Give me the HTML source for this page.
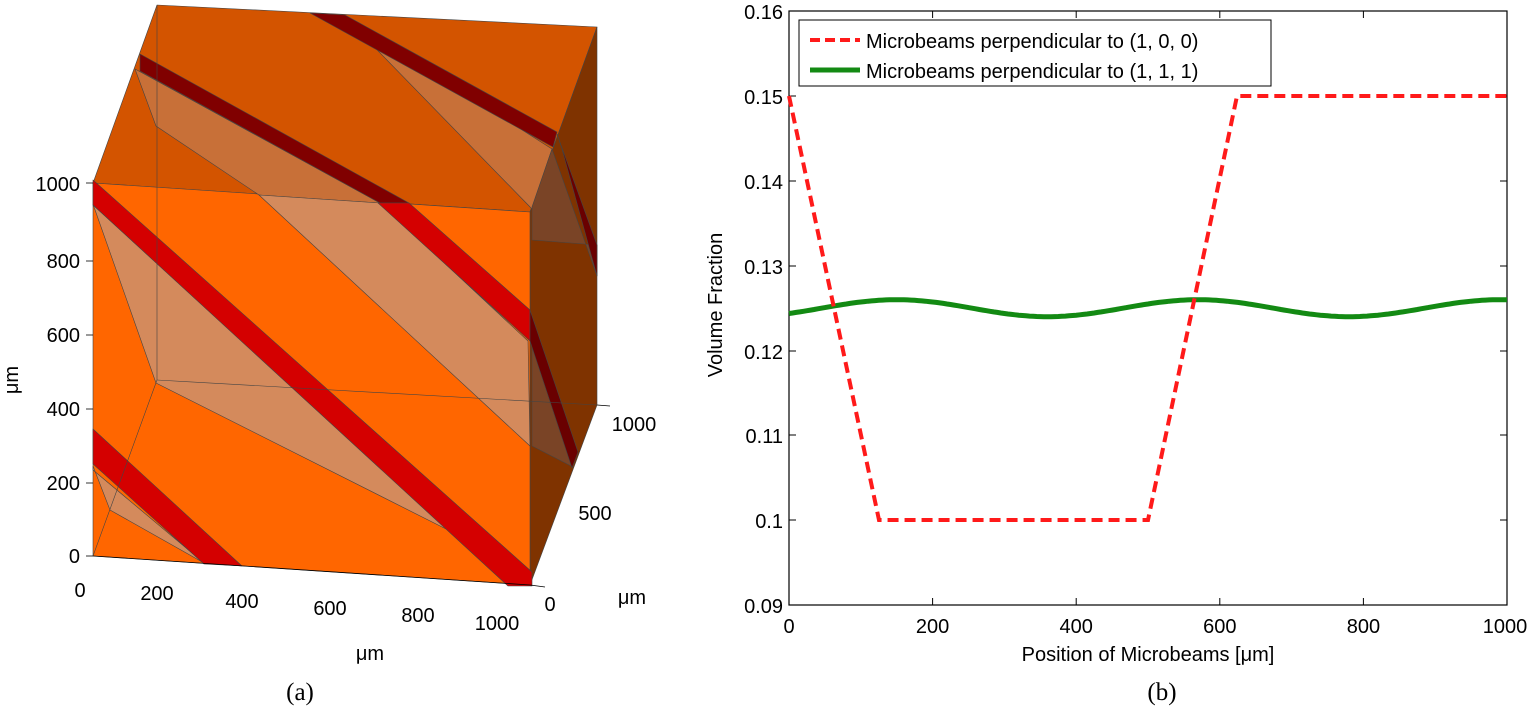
<!DOCTYPE html>
<html><head><meta charset="utf-8"><style>
html,body{margin:0;padding:0;background:#fff}
svg{display:block}
text{font-family:"Liberation Sans",sans-serif;fill:#000}
</style></head><body>
<svg width="1534" height="714" viewBox="0 0 1534 714" xmlns="http://www.w3.org/2000/svg">
<g stroke="#444" stroke-width="0.6" stroke-linejoin="round">
<polygon points="93,183 157,5 597,27 530,212" fill="#d35400"/>
<polygon points="530,212 597,27 597,405 530,585" fill="#7f3300"/>
<polygon points="93,183 530,212 530,585 93,556" fill="#ff6600"/>
<polygon points="135,69 156,126 259,195 380,203" fill="#c87038"/>
<polygon points="345,17 552,149 532,209" fill="#c87038"/>
<polygon points="532,207 552,149 597,276 597,245 532,240" fill="#7a4426"/>
<polygon points="532,337 573,467 532,446" fill="#7a4426"/>
<polygon points="94,207 156,383 452,532 508,584 93,205" fill="#d48a5c"/>
<polygon points="259,195 380,203 528,341 530,446" fill="#d48a5c"/>
<polygon points="93,466 110,510 204,563 93,470" fill="#d48a5c"/>
<polygon points="140,54 140,71 380,203 409,203" fill="#800000"/>
<polygon points="310,13 345,15 557,132 553,147" fill="#800000"/>
<polygon points="557,134 562,149 597,276 597,245" fill="#6a0000"/>
<polygon points="93,180 93,205 508,586 532,586 532,572" fill="#d40000"/>
<polygon points="378,203 409,203 530,310 530,341" fill="#d40000"/>
<polygon points="93,429 93,464 204,564 242,566" fill="#d40000"/>
<polygon points="530,310 530,341 572,468 578,452" fill="#6a0000"/>
<line x1="157" y1="5" x2="157" y2="380" fill="none"/>
<line x1="157" y1="380" x2="597" y2="405" fill="none"/>
<line x1="157" y1="380" x2="93" y2="556" fill="none"/>
</g>
<g stroke="#000" stroke-width="0.8">
<line x1="93" y1="556" x2="530" y2="585"/>
<line x1="530" y1="585" x2="545" y2="587"/>
<line x1="597" y1="405" x2="610" y2="406"/>
<line x1="86" y1="556" x2="93" y2="556"/><line x1="86" y1="483" x2="93" y2="483"/>
<line x1="86" y1="409" x2="93" y2="409"/><line x1="86" y1="335" x2="93" y2="335"/>
<line x1="86" y1="261" x2="93" y2="261"/><line x1="86" y1="183" x2="93" y2="183"/>
</g>
<g font-size="20">
<text x="80" y="563" text-anchor="end">0</text>
<text x="80" y="490" text-anchor="end">200</text>
<text x="80" y="416" text-anchor="end">400</text>
<text x="80" y="342" text-anchor="end">600</text>
<text x="80" y="268" text-anchor="end">800</text>
<text x="80" y="191" text-anchor="end">1000</text>
<text x="18" y="380" text-anchor="middle" transform="rotate(-90 18 380)">μm</text>
<text x="80" y="597" text-anchor="middle">0</text>
<text x="157" y="600" text-anchor="middle">200</text>
<text x="242" y="608" text-anchor="middle">400</text>
<text x="330" y="615" text-anchor="middle">600</text>
<text x="418" y="622" text-anchor="middle">800</text>
<text x="497" y="630" text-anchor="middle">1000</text>
<text x="370" y="660" text-anchor="middle">μm</text>
<text x="550" y="611" text-anchor="middle">0</text>
<text x="595" y="520" text-anchor="middle">500</text>
<text x="634" y="431" text-anchor="middle">1000</text>
<text x="632" y="604" text-anchor="middle">μm</text>
</g>
<text x="300" y="700" font-size="25" text-anchor="middle" style="font-family:'Liberation Serif',serif">(a)</text>

<rect x="789" y="11" width="718" height="594" fill="none" stroke="#000" stroke-width="1.2"/>
<g stroke="#000" stroke-width="1">
<line x1="789" y1="96" x2="796" y2="96"/><line x1="1507" y1="96" x2="1500" y2="96"/>
<line x1="789" y1="181" x2="796" y2="181"/><line x1="1507" y1="181" x2="1500" y2="181"/>
<line x1="789" y1="266" x2="796" y2="266"/><line x1="1507" y1="266" x2="1500" y2="266"/>
<line x1="789" y1="351" x2="796" y2="351"/><line x1="1507" y1="351" x2="1500" y2="351"/>
<line x1="789" y1="435" x2="796" y2="435"/><line x1="1507" y1="435" x2="1500" y2="435"/>
<line x1="789" y1="520" x2="796" y2="520"/><line x1="1507" y1="520" x2="1500" y2="520"/>
<line x1="932.6" y1="605" x2="932.6" y2="598"/><line x1="932.6" y1="11" x2="932.6" y2="18"/>
<line x1="1076.2" y1="605" x2="1076.2" y2="598"/><line x1="1076.2" y1="11" x2="1076.2" y2="18"/>
<line x1="1219.8" y1="605" x2="1219.8" y2="598"/><line x1="1219.8" y1="11" x2="1219.8" y2="18"/>
<line x1="1363.4" y1="605" x2="1363.4" y2="598"/><line x1="1363.4" y1="11" x2="1363.4" y2="18"/>
</g>
<g font-size="20" text-anchor="end">
<text x="783" y="19">0.16</text>
<text x="783" y="104">0.15</text>
<text x="783" y="189">0.14</text>
<text x="783" y="274">0.13</text>
<text x="783" y="359">0.12</text>
<text x="783" y="443">0.11</text>
<text x="783" y="528">0.1</text>
<text x="783" y="613">0.09</text>
</g>
<g font-size="20" text-anchor="middle">
<text x="789" y="633">0</text>
<text x="932.6" y="633">200</text>
<text x="1076.2" y="633">400</text>
<text x="1219.8" y="633">600</text>
<text x="1363.4" y="633">800</text>
<text x="1505" y="633">1000</text>
<text x="1148" y="661">Position of Microbeams [μm]</text>
<text x="722" y="305" transform="rotate(-90 722 305)">Volume Fraction</text>
</g>
<polyline id="green" fill="none" stroke="#138a13" stroke-width="5" points=""/>
<polyline points="789,96 879,520 1148,520 1237,96 1507,96" fill="none" stroke="#ff1a1a" stroke-width="4" stroke-dasharray="11,6"/>
<rect x="799" y="20" width="472" height="66" fill="#fff" stroke="#000" stroke-width="1"/>
<line x1="810" y1="40" x2="860" y2="40" stroke="#ff1a1a" stroke-width="4" stroke-dasharray="10,5"/>
<line x1="810" y1="70" x2="860" y2="70" stroke="#138a13" stroke-width="5"/>
<text x="866" y="48" font-size="20">Microbeams perpendicular to (1, 0, 0)</text>
<text x="866" y="78" font-size="20">Microbeams perpendicular to (1, 1, 1)</text>
<text x="1162" y="700" font-size="25" text-anchor="middle" style="font-family:'Liberation Serif',serif">(b)</text>
</svg>
<script>
var p=[];for(var x=0;x<=1000;x+=5){var v=0.125+0.001*Math.sin(2*Math.PI*(x-45)/420);
p.push((789+x*0.718).toFixed(1)+","+(605-(v-0.09)*8480).toFixed(1));}
document.getElementById("green").setAttribute("points",p.join(" "));
</script>
</body></html>
